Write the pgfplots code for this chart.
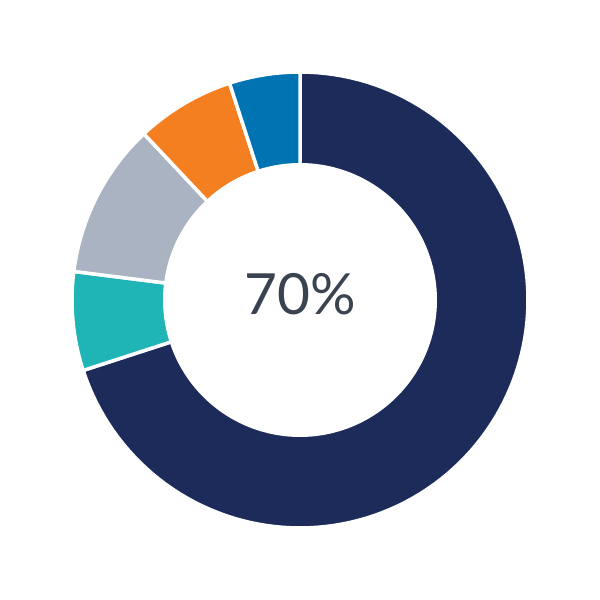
\documentclass[border=0pt]{standalone}
\usepackage{pgfplots}
\pgfplotsset{compat=1.18}
\usepackage{fontspec}
\setmainfont{Lato}
\definecolor{cnavy}{HTML}{1C2B5A}
\definecolor{cteal}{HTML}{1FB5B6}
\definecolor{cgray}{HTML}{A9B3C1}
\definecolor{corange}{HTML}{F47F20}
\definecolor{cblue}{HTML}{0073B2}
\definecolor{ctext}{HTML}{3A4350}
\begin{document}
\begin{tikzpicture}
\begin{axis}[
  scale only axis, width=600bp, height=600bp,
  xmin=-300, xmax=300, ymin=-300, ymax=300,
  hide axis, clip=false,
  samples=120,
]
\addplot[draw=none, forget plot] coordinates {(-300,-300) (300,300)};
% slices: value in percent, clockwise from top, outer radius 228
% navy 70, teal 7, gray 11, orange 7, blue 5
\addplot[fill=cnavy, draw=white, line width=3.5bp, domain=0:70] ({228*sin(3.6*x)},{228*cos(3.6*x)}) -- (axis cs:0,0) -- cycle;
\addplot[fill=cteal, draw=white, line width=3.5bp, domain=70:77] ({228*sin(3.6*x)},{228*cos(3.6*x)}) -- (axis cs:0,0) -- cycle;
\addplot[fill=cgray, draw=white, line width=3.5bp, domain=77:88] ({228*sin(3.6*x)},{228*cos(3.6*x)}) -- (axis cs:0,0) -- cycle;
\addplot[fill=corange, draw=white, line width=3.5bp, domain=88:95] ({228*sin(3.6*x)},{228*cos(3.6*x)}) -- (axis cs:0,0) -- cycle;
\addplot[fill=cblue, draw=white, line width=3.5bp, domain=95:100] ({228*sin(3.6*x)},{228*cos(3.6*x)}) -- (axis cs:0,0) -- cycle;
% hole
\addplot[fill=white, draw=none, domain=0:100, samples=200] ({137*sin(3.6*x)},{137*cos(3.6*x)}) -- cycle;
\node[text=ctext, font=\fontsize{57}{60}\selectfont, inner sep=0pt, anchor=base] at (axis cs:0,-15) {70\%};
\end{axis}
\end{tikzpicture}
\end{document}
